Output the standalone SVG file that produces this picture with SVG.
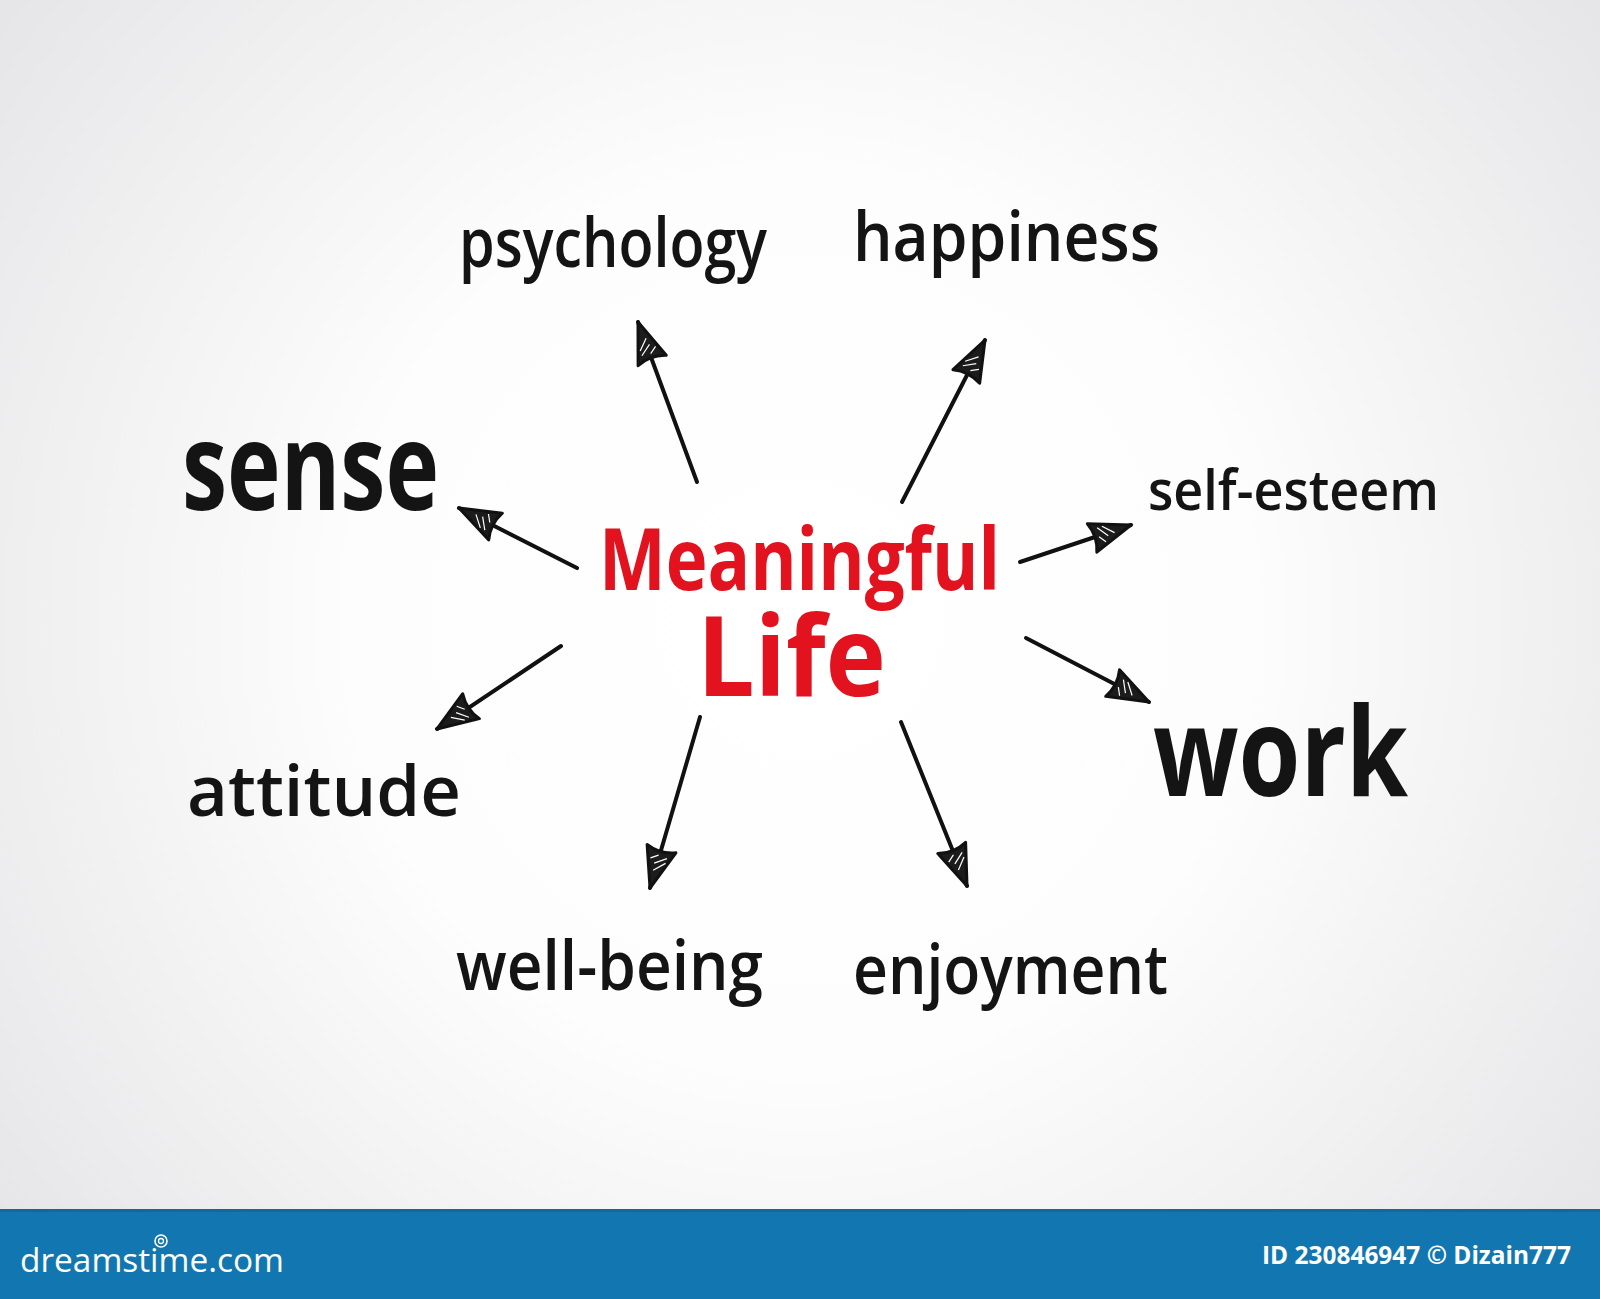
<svg xmlns="http://www.w3.org/2000/svg" width="1600" height="1299" viewBox="0 0 1600 1299">
<defs>
<radialGradient id="bg" cx="800" cy="620" r="1000" gradientUnits="userSpaceOnUse">
<stop offset="0" stop-color="#ffffff"/>
<stop offset="0.45" stop-color="#fdfdfd"/>
<stop offset="1" stop-color="#e6e6e8"/>
</radialGradient>
<marker id="head" markerUnits="userSpaceOnUse" viewBox="0 0 46 36" refX="44" refY="18" markerWidth="46" markerHeight="36" orient="auto">
<path d="M3,3 L44,18 L3,33 Q9,18 3,3 Z" fill="#1c1c1c" stroke="#111" stroke-width="3" stroke-linejoin="round"/>
<path d="M11,10 L19,21 M16,10 L26,20 M10,19 L15,26" stroke="#ffffff" stroke-width="1.2" fill="none"/>
</marker>
<style>
.lbl{font-family:"Open Sans","Noto Sans","DejaVu Sans",sans-serif;font-weight:600;fill:#141414}
.big{font-family:"Open Sans","Noto Sans","DejaVu Sans",sans-serif;font-weight:700;fill:#141414}
.ctr{font-family:"Open Sans","Noto Sans","DejaVu Sans",sans-serif;font-weight:700;fill:#e2131f}
.con{stroke:#111;stroke-width:4;fill:none;stroke-linecap:round;marker-end:url(#head)}
.foot{font-family:"Open Sans","Liberation Sans",sans-serif;fill:#ffffff}
</style>
</defs>
<rect x="0" y="0" width="1600" height="1299" fill="url(#bg)"/>

<g id="connectors">
<line class="con" x1="697" y1="482" x2="638" y2="322"/>
<line class="con" x1="902" y1="502" x2="985" y2="340"/>
<line class="con" x1="577" y1="568" x2="459" y2="508"/>
<line class="con" x1="1020" y1="562" x2="1131" y2="525"/>
<line class="con" x1="1026" y1="638" x2="1149" y2="702"/>
<line class="con" x1="561" y1="646" x2="437" y2="729"/>
<line class="con" x1="700" y1="717" x2="650" y2="888"/>
<line class="con" x1="901" y1="722" x2="967" y2="886"/>
</g>

<g id="center">
<text class="ctr" x="599" y="590" font-size="86" textLength="401" lengthAdjust="spacingAndGlyphs">Meaningful</text>
<text class="ctr" x="697" y="696" font-size="112" textLength="189" lengthAdjust="spacingAndGlyphs">Life</text>
</g>

<g id="node-psychology"><text class="lbl" x="459" y="267" font-size="68" textLength="308" lengthAdjust="spacingAndGlyphs">psychology</text></g>
<g id="node-happiness"><text class="lbl" x="853" y="261" font-size="68" textLength="307" lengthAdjust="spacingAndGlyphs">happiness</text></g>
<g id="node-sense"><text class="big" x="182" y="510" font-size="122" textLength="257" lengthAdjust="spacingAndGlyphs">sense</text></g>
<g id="node-self-esteem"><text class="lbl" x="1148" y="510" font-size="56" textLength="291" lengthAdjust="spacingAndGlyphs">self-esteem</text></g>
<g id="node-work"><text class="big" x="1153" y="796" font-size="124" textLength="255" lengthAdjust="spacingAndGlyphs">work</text></g>
<g id="node-attitude"><text class="lbl" x="187" y="816" font-size="70" textLength="274" lengthAdjust="spacingAndGlyphs">attitude</text></g>
<g id="node-well-being"><text class="lbl" x="456" y="990" font-size="68" textLength="307" lengthAdjust="spacingAndGlyphs">well-being</text></g>
<g id="node-enjoyment"><text class="lbl" x="853" y="994" font-size="68" textLength="315" lengthAdjust="spacingAndGlyphs">enjoyment</text></g>

<g id="footer">
<rect x="0" y="1209" width="1600" height="90" fill="#1277b0"/>
<rect x="0" y="1209" width="1600" height="3" fill="#0f6a9e"/>
<text class="foot" x="20" y="1272" font-size="33" textLength="264" lengthAdjust="spacingAndGlyphs">dreamstime.com</text>
<circle cx="161" cy="1241" r="6" fill="none" stroke="#fff" stroke-width="1.6"/>
<circle cx="161" cy="1241" r="2.5" fill="none" stroke="#fff" stroke-width="1.3"/>
<text class="foot" x="1571" y="1264" font-size="25" font-weight="700" text-anchor="end" textLength="309" lengthAdjust="spacingAndGlyphs">ID 230846947 © Dizain777</text>
</g>
</svg>
